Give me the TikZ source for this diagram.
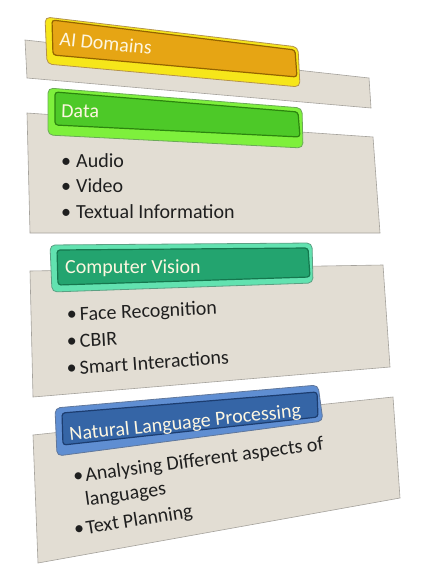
\documentclass[tikz,border=0pt]{standalone}
\usepackage{fontspec}
\setmainfont{Carlito}
\definecolor{panelc}{HTML}{E2DDD3}
\definecolor{panelb}{HTML}{A5A29C}
\definecolor{aimain}{HTML}{E6A514}
\definecolor{ailight}{HTML}{F6E61A}
\definecolor{aidark}{HTML}{946400}
\definecolor{damain}{HTML}{4DC928}
\definecolor{dalight}{HTML}{7EF03C}
\definecolor{dadark}{HTML}{2C850F}
\definecolor{cvmain}{HTML}{23A46F}
\definecolor{cvlight}{HTML}{62E2B0}
\definecolor{cvdark}{HTML}{15774E}
\definecolor{nlmain}{HTML}{3565A6}
\definecolor{nllight}{HTML}{5F8ED2}
\definecolor{nldark}{HTML}{1C3D70}
\definecolor{htxt}{HTML}{FDF6E0}
\newcommand{\bulitem}[1]{\makebox[#1][l]{\textbullet}}
\begin{document}
\begin{tikzpicture}[x=1pt,y=-1pt,
  panel/.style={fill=panelc, draw=panelb, line width=0.6pt},
  hdrout/.style={rounded corners=5pt, line width=0.8pt},
  hdrin/.style={rounded corners=3pt, line width=1.2pt},
  htext/.style={font=\fontsize{20}{24}\selectfont, text=htxt, inner sep=0pt, anchor=base west},
  btext/.style={font=\fontsize{20}{24}\selectfont, text=black!88, inner sep=0pt, anchor=base west}]
\useasboundingbox[fill=white] (0,0) rectangle (430,578);

% Panel 1: AI Domains
\draw[panel] (25,40) -- (369,78) -- (371,108) -- (27,78) -- cycle;
\draw[hdrout, fill=ailight, draw=aidark!70] (45,17) -- (298,47) -- (300,87) -- (47,64) -- cycle;
\draw[hdrin, fill=aimain, draw=aidark] (52,20) -- (295,50) -- (297,77) -- (53,55) -- cycle;
\node[htext, rotate=-6] (ai) at (59,45) {AI Domains};

% Panel 2: Data
\draw[panel] (27,113) -- (373,137) -- (380,233) -- (30,233) -- cycle;
\draw[hdrout, fill=dalight, draw=dadark!70] (48,88) -- (302,108) -- (303,148) -- (48,135) -- cycle;
\draw[hdrin, fill=damain, draw=dadark] (55,92) -- (298,112) -- (300,137) -- (55,125) -- cycle;
\node[htext, rotate=-2] (data) at (61,117) {Data};
\node[btext] (audio) at (61,167) {\bulitem{15pt}Audio};
\node[btext] (video) at (61,192) {\bulitem{15pt}Video};
\node[btext] (textual) at (61,218) {\bulitem{15pt}Textual Information};

% Panel 3: Computer Vision
\draw[panel] (30,271) -- (383,265) -- (390,367) -- (33,397) -- cycle;
\draw[hdrout, fill=cvlight, draw=cvdark!70] (50,245) -- (312,243) -- (313,283) -- (52,292) -- cycle;
\draw[hdrin, fill=cvmain, draw=cvdark] (57,250) -- (308,248) -- (310,277) -- (58,285) -- cycle;
\node[htext] (cv) at (65,273) {Computer Vision};
\node[btext, rotate=2.5] (face) at (67,321) {\bulitem{13pt}Face Recognition};
\node[btext, rotate=3] (cbir) at (67,348) {\bulitem{13pt}CBIR};
\node[btext, rotate=4] (smart) at (67,375) {\bulitem{13pt}Smart Interactions};

% Panel 4: NLP
\draw[panel] (33,435) -- (393,397) -- (400,498) -- (38,563) -- cycle;
\draw[hdrout, fill=nllight, draw=nldark!70] (55,408) -- (318,385) -- (323,421) -- (57,456) -- cycle;
\draw[hdrin, fill=nlmain, draw=nldark] (62,413) -- (317,392) -- (318,417) -- (63,445) -- cycle;
\node[htext, rotate=6] (nlp) at (70,441) {Natural Language Processing};
\node[btext, rotate=7.5] (analysing) at (74,483) {\bulitem{12pt}Analysing Different aspects of};
\node[btext, rotate=8] (languages) at (86,506) {languages};
\node[btext, rotate=9] (planning) at (75,536) {\bulitem{12pt}Text Planning};
\end{tikzpicture}
\end{document}
